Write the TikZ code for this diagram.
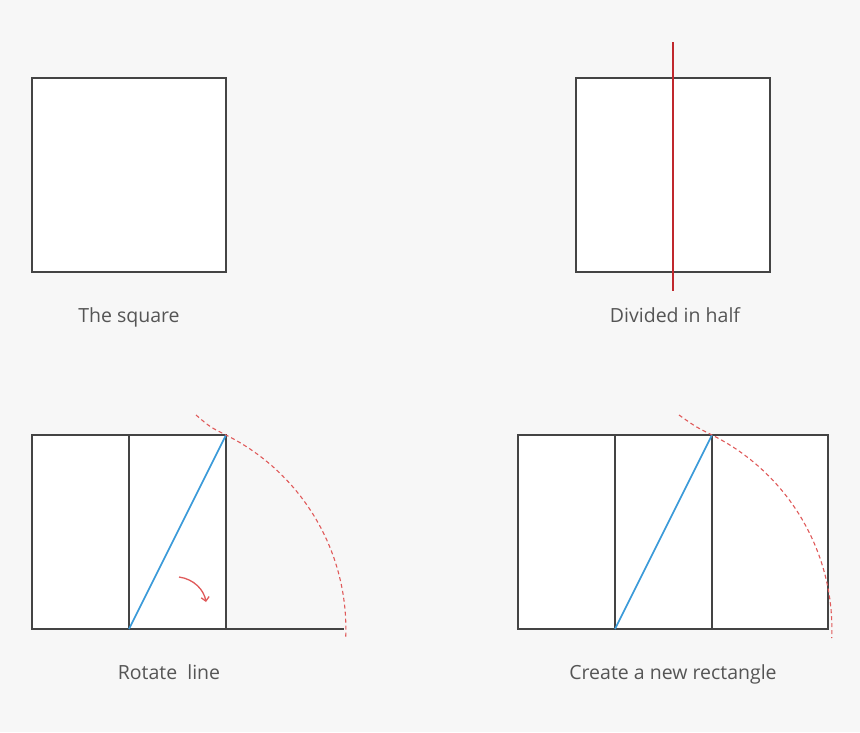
\documentclass[tikz,border=0pt]{standalone}
\usepackage{fontspec}
\setmainfont{Open Sans}
\usepackage{xcolor}
\usetikzlibrary{calc,positioning,arrows.meta}
\definecolor{bggray}{HTML}{F7F7F7}
\definecolor{edgegray}{HTML}{444444}
\definecolor{textgray}{HTML}{555555}
\definecolor{cutred}{HTML}{C0282D}
\definecolor{arcred}{HTML}{E05A5A}
\definecolor{lineblue}{HTML}{3A9AD9}

\begin{document}
\begin{tikzpicture}[x=1pt, y=-1pt,
    edge/.style={draw=edgegray, line width=1.8pt},
    face/.style={fill=white},
    diag/.style={draw=lineblue, line width=1.6pt},
    swing/.style={draw=arcred, line width=1.1pt, dash pattern=on 4pt off 3pt},
    caption/.style={text=textgray, font=\fontsize{19.5}{22}\selectfont, inner sep=0pt, anchor=base}]
    % page
    \path[use as bounding box, fill=bggray] (0,0) rectangle (860,732);

    % the square
    \coordinate (sqa) at (32,78);
    \coordinate (sqb) at (226,272);
    \fill[face] (sqa) rectangle (sqb);
    \draw[edge] (sqa) rectangle (sqb);
    \node (labsquare) [caption] at (129,322) {The square};

    % divided in half
    \coordinate (hfa) at (576,78);
    \coordinate (hfb) at (770,272);
    \coordinate (cuttop) at (673,42);
    \coordinate (cutbot) at (673,291);
    \fill[face] (hfa) rectangle (hfb);
    \draw[edge] (hfa) rectangle (hfb);
    \draw[draw=cutred, line width=1.6pt] (cuttop) -- (cutbot);
    \node (labhalf) [caption] at (675,322) {Divided in half};

    % rotate line
    \coordinate (rta) at (32,435);
    \coordinate (rtb) at (226,629);
    \coordinate (rtcorner) at (226,435);
    \coordinate (rtmidtop) at (129,435);
    \coordinate (rtmid) at (129,629);
    \coordinate (rtend) at (344,629);
    \fill[face] (rta) rectangle (rtb);
    \draw[edge] (rta) rectangle (rtb);
    \draw[edge] (rtmidtop) -- (rtmid);
    \draw[edge] (rtb) -- (rtend);
    \draw[diag] (rtmid) -- (rtcorner);
    \draw[swing] (196,415) .. controls (210,427) .. (rtcorner)
        arc[start angle=-63.43, end angle=2.4, radius=216.9];
    \coordinate (turna) at (179,577);
    \coordinate (turnb) at (206,602);
    \draw[draw=arcred, line width=1.3pt, -{Straight Barb[length=4pt, width=8pt]}]
        (turna) .. controls (194,579) and (204,590) .. (turnb);
    \node (labrotate) [caption] at (169,679) {Rotate\ \ line};

    % new rectangle
    \coordinate (nra) at (518,435);
    \coordinate (nrb) at (828,629);
    \coordinate (nrcorner) at (712,435);
    \coordinate (nrmid) at (615,629);
    \fill[face] (nra) rectangle (nrb);
    \draw[edge] (nra) rectangle (nrb);
    \draw[edge] (615,435) -- (nrmid);
    \draw[edge] (nrcorner) -- (712,629);
    \draw[diag] (nrmid) -- (nrcorner);
    \draw[swing] (679,415) .. controls (696,427) .. (nrcorner)
        arc[start angle=-63.43, end angle=2.4, radius=216.9];
    \node (labrect) [caption] at (673,679) {Create a new rectangle};
\end{tikzpicture}
\end{document}
